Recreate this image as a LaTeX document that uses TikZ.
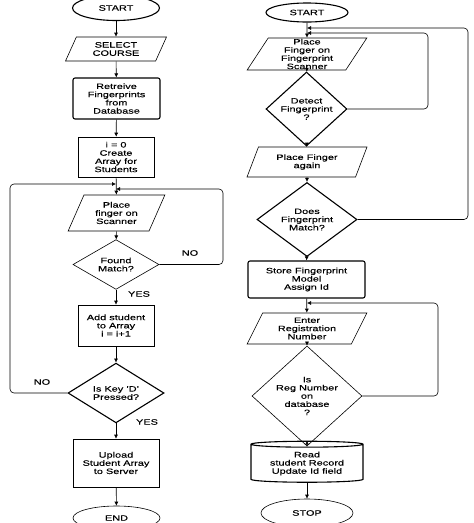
\documentclass[tikz,border=0pt]{standalone}
\usepackage{fontspec}
\setmainfont{Liberation Sans}[FakeStretch=1.4,FakeBold=0.15]
\usetikzlibrary{shapes.geometric,arrows.meta}

\tikzset{
  base/.style={draw, line width=0.6pt, align=center, inner sep=0pt,
    font=\fontsize{7.8}{8.2}\selectfont},
  term/.style={base, ellipse},
  io/.style={base, trapezium, trapezium left angle=65, trapezium right angle=115,
    trapezium stretches=true},
  proc/.style={base, rectangle},
  dec/.style={base, diamond},
  drum/.style={base, cylinder, shape border rotate=90, aspect=0.08},
  heavy/.style={line width=1.1pt},
  flow/.style={-{Latex[length=4pt,width=4pt]}, line width=0.6pt},
  back/.style={flow, rounded corners=4pt},
  lab/.style={font=\fontsize{7.8}{8.2}\selectfont},
}

\begin{document}
\begin{tikzpicture}[x=1pt,y=-1pt]
    \useasboundingbox (0,0) rectangle (474,523);
    % left flow
    \node[term,heavy,minimum width=87,minimum height=25] (start1) at (116,8) {START};
    \node[io,minimum width=101,minimum height=24] (course) at (116,49) {SELECT\\COURSE};
    \node[proc,heavy,rounded corners=2pt,minimum width=87,minimum height=41] (fetch) at (116.5,98.5) {Retreive\\Fingerprints\\from\\Database};
    \node[proc,minimum width=76,minimum height=40] (init) at (116,157) {i = 0\\Create\\Array for\\Students};
    \node[io,minimum width=97,minimum height=36] (place) at (116.5,213) {Place\\finger on\\Scanner};
    \node[dec,minimum width=86,minimum height=45] (found) at (116,264.5) {Found\\Match?};
    \node[proc,minimum width=76,minimum height=41] (add) at (116,325.5) {Add student\\to Array\\i = i+1};
    \node[dec,heavy,minimum width=96,minimum height=46] (keyd) at (116,393) {Is Key 'D'\\Pressed?};
    \node[proc,minimum width=86,minimum height=48] (upload) at (116,463) {Upload\\Student Array\\to Server};
    \node[term,minimum width=87,minimum height=24] (end) at (116.5,518) {END};
    \coordinate (j1) at (116,189);
    \coordinate (j2) at (116,184);
    \node[lab] (no1) at (190,253) {NO};
    \node[lab] (yes1) at (139,294) {YES};
    \node[lab] (no2) at (42,382) {NO};
    \node[lab] (yes2) at (147,422) {YES};
    \draw[flow] (start1) -- (course);
    \draw[flow] (course) -- (fetch);
    \draw[flow] (fetch) -- (init);
    \draw[flow] (init) -- (place);
    \draw[flow] (place) -- (found);
    \draw[flow] (found) -- (add);
    \draw[flow] (add) -- (keyd);
    \draw[flow] (keyd) -- (upload);
    \draw[flow] (upload) -- (end);
    \draw[back] (found.east) -- (223,264.5) |- (j1);
    \draw[back] (keyd.west) -- (10,393) |- (j2);
    % right flow
    \node[term,heavy,minimum width=82,minimum height=19] (start2) at (307,12.5) {START};
    \node[io,minimum width=120,minimum height=32] (scan) at (307,54) {Place\\Finger on\\Fingerprint\\Scanner};
    \node[dec,heavy,minimum width=81,minimum height=46] (detect) at (306.5,109) {Detect\\Fingerprint\\?};
    \node[io,minimum width=120,minimum height=30] (again) at (307,162) {Place Finger\\again};
    \node[dec,heavy,minimum width=100,minimum height=51] (match) at (307,219.5) {Does\\Fingerprint\\Match?};
    \node[proc,heavy,rounded corners=2pt,minimum width=117,minimum height=37] (model) at (306.5,279.5) {Store Fingerprint\\Model\\Assign Id};
    \node[io,minimum width=120,minimum height=31] (regno) at (307,328.5) {Enter\\Registration\\Number};
    \node[dec,minimum width=110,minimum height=62] (ondb) at (307,396) {Is\\Reg Number\\on\\database\\?};
    \node[drum,heavy,minimum width=112,minimum height=41] (record) at (307,463.5) {Read\\student Record\\Update Id field};
    \node[term,minimum width=92,minimum height=28] (stop) at (307,513) {STOP};
    \coordinate (j3) at (307,28);
    \coordinate (j4) at (307,33);
    \coordinate (j5) at (307,303);
    \draw[flow] (start2) -- (scan);
    \draw[flow] (scan) -- (detect);
    \draw[flow] (detect) -- (again);
    \draw[flow] (again) -- (match);
    \draw[flow] (match) -- (model);
    \draw[flow] (model) -- (regno);
    \draw[flow] (regno) -- (ondb);
    \draw[flow] (ondb) -- (record);
    \draw[flow] (record) -- (stop);
    \draw[back] (detect.east) -- (428,109) |- (j4);
    \draw[back] (match.east) -- (468,219.5) |- (j3);
    \draw[back] (ondb.east) -- (438,396) |- (j5);
\end{tikzpicture}
\end{document}
